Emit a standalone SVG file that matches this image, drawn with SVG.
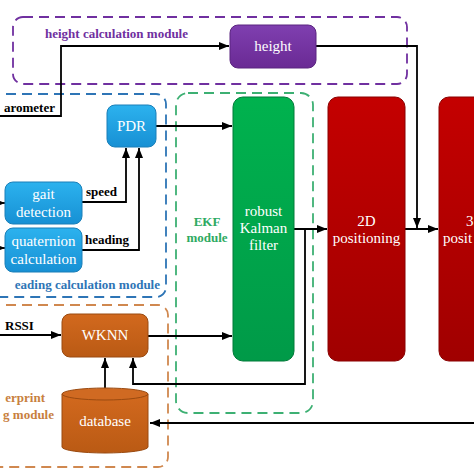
<svg xmlns="http://www.w3.org/2000/svg" width="474" height="474" viewBox="0 0 474 474" font-family="'Liberation Serif', 'DejaVu Serif', serif">
<defs>
<linearGradient id="gP" x1="0" y1="0" x2="0" y2="1"><stop offset="0" stop-color="#7F3FB0"/><stop offset="1" stop-color="#6A2A94"/></linearGradient>
<linearGradient id="gB" x1="0" y1="0" x2="0" y2="1"><stop offset="0" stop-color="#2CB2EE"/><stop offset="1" stop-color="#1790D4"/></linearGradient>
<linearGradient id="gG" x1="0" y1="0" x2="0" y2="1"><stop offset="0" stop-color="#00B24E"/><stop offset="1" stop-color="#009A48"/></linearGradient>
<linearGradient id="gR" x1="0" y1="0" x2="0" y2="1"><stop offset="0" stop-color="#C40000"/><stop offset="1" stop-color="#A00000"/></linearGradient>
<linearGradient id="gO" x1="0" y1="0" x2="0" y2="1"><stop offset="0" stop-color="#D2691E"/><stop offset="1" stop-color="#BA5A14"/></linearGradient>
<marker id="ar" viewBox="0 0 10 8" refX="10" refY="4" markerWidth="10" markerHeight="8" markerUnits="userSpaceOnUse" orient="auto"><path d="M0,0 L10,4 L0,8 Z" fill="#000"/></marker>
<style>
.nt{font-family:'Liberation Serif','DejaVu Serif',serif;font-size:15px;fill:#fff;text-anchor:middle}
.lb{font-family:'Liberation Serif','DejaVu Serif',serif;font-size:13px;font-weight:bold}
.dash{fill:none;stroke-width:1.8;stroke-dasharray:10,6}
.cn{fill:none;stroke:#000;stroke-width:1.8}
</style>
</defs>
<rect width="474" height="474" fill="#fff"/>
<g id="modules">
<rect class="dash" x="13" y="17" width="394" height="67" rx="10" stroke="#7030A0"/>
<rect class="dash" x="-20" y="94" width="186" height="203" rx="10" stroke="#2E75B6"/>
<rect class="dash" x="176" y="93" width="137" height="320" rx="12" stroke="#3DB073"/>
<rect class="dash" x="-20" y="305" width="188" height="162" rx="10" stroke="#D0884F"/>
<text class="lb" x="45" y="38" fill="#7030A0">height calculation module</text>
<text class="lb" x="160" y="289" fill="#2E75B6" text-anchor="end">eading calculation module</text>
<text class="lb" x="207" y="226" fill="#2EAA62" text-anchor="middle">EKF</text>
<text class="lb" x="207" y="242" fill="#2EAA62" text-anchor="middle">module</text>
<text class="lb" x="45" y="402" fill="#C8803E" text-anchor="end">erprint</text>
<text class="lb" x="54" y="419" fill="#C8803E" text-anchor="end">g module</text>
</g>
<g id="connectors">
<path class="cn" d="M-5,116 H61 V46 H229" marker-end="url(#ar)"/>
<text class="lb" x="55" y="112" text-anchor="end">arometer</text>
<path class="cn" d="M316,46 H417 V228" marker-end="url(#ar)"/>
<path class="cn" d="M156,126 H232" marker-end="url(#ar)"/>
<path class="cn" d="M-5,203 H5" marker-end="url(#ar)"/>
<path class="cn" d="M-5,248 H5" marker-end="url(#ar)"/>
<path class="cn" d="M82,202 H126 V148" marker-end="url(#ar)"/>
<path class="cn" d="M82,250 H139 V148" marker-end="url(#ar)"/>
<text class="lb" x="86" y="196">speed</text>
<text class="lb" x="85" y="244">heading</text>
<path class="cn" d="M294,229 H327" marker-end="url(#ar)"/>
<path class="cn" d="M305,229 V384 H133 V358" marker-end="url(#ar)"/>
<path class="cn" d="M405,229 H438" marker-end="url(#ar)"/>
<path class="cn" d="M-5,335 H61" marker-end="url(#ar)"/>
<text class="lb" x="5" y="330">RSSI</text>
<path class="cn" d="M148,336 H232" marker-end="url(#ar)"/>
<path class="cn" d="M105,388 V358" marker-end="url(#ar)"/>
<path class="cn" d="M480,423 H150" marker-end="url(#ar)"/>
</g>
<g id="height"><rect x="230" y="25" width="86" height="43" rx="8" fill="url(#gP)" stroke="#5B2580" stroke-width="1"/><text class="nt" x="273" y="51">height</text></g>
<g id="pdr"><rect x="107" y="105" width="49" height="42" rx="8" fill="url(#gB)" stroke="#1A7FB8" stroke-width="1"/><text class="nt" x="131.5" y="131">PDR</text></g>
<g id="gait"><rect x="5" y="182" width="77" height="42" rx="8" fill="url(#gB)" stroke="#1A7FB8" stroke-width="1"/><text class="nt" x="43.5" y="199">gait</text><text class="nt" x="43.5" y="217">detection</text></g>
<g id="quaternion"><rect x="5" y="228" width="77" height="44" rx="8" fill="url(#gB)" stroke="#1A7FB8" stroke-width="1"/><text class="nt" x="43.5" y="246">quaternion</text><text class="nt" x="43.5" y="264">calculation</text></g>
<g id="kalman"><rect x="233" y="97" width="61" height="264" rx="10" fill="url(#gG)" stroke="#007A38" stroke-width="1"/><text class="nt" x="263.5" y="216">robust</text><text class="nt" x="263.5" y="233">Kalman</text><text class="nt" x="263.5" y="250">filter</text></g>
<g id="pos2d"><rect x="328" y="97" width="77" height="264" rx="10" fill="url(#gR)" stroke="#8A0000" stroke-width="1"/><text class="nt" x="366.5" y="226">2D</text><text class="nt" x="366.5" y="243">positioning</text></g>
<g id="pos3d"><rect x="439" y="97" width="77" height="264" rx="10" fill="url(#gR)" stroke="#8A0000" stroke-width="1"/><text class="nt" x="466" y="226" style="text-anchor:start">3</text><text class="nt" x="443" y="243" style="text-anchor:start">posit</text></g>
<g id="wknn"><rect x="62" y="314" width="86" height="43" rx="8" fill="url(#gO)" stroke="#9A4A10" stroke-width="1"/><text class="nt" x="105" y="340">WKNN</text></g>
<g id="database"><path d="M62,394 V447 A43,6 0 0 0 148,447 V394 Z" fill="url(#gO)" stroke="#9A4A10" stroke-width="1"/><ellipse cx="105" cy="394" rx="43" ry="6" fill="#D06A22" stroke="#9A4A10" stroke-width="1"/><text class="nt" x="105" y="426">database</text></g>
</svg>
